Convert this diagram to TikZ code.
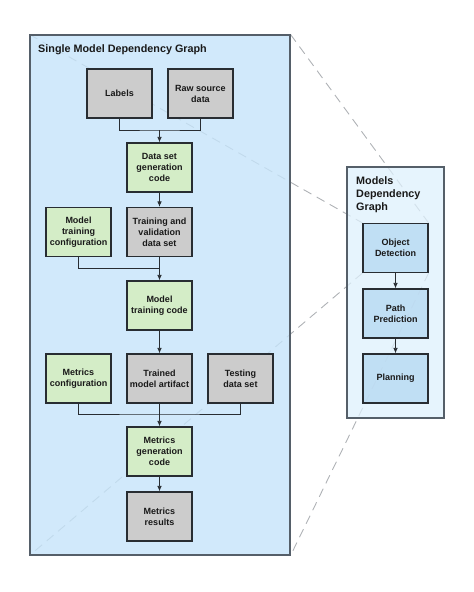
\documentclass[tikz,border=0pt]{standalone}
\usepackage{fontspec}
\setmainfont{Liberation Sans}
\usetikzlibrary{arrows.meta,positioning}
\pgfdeclarelayer{background}
\pgfsetlayers{background,main}
\definecolor{bigfill}{RGB}{198,228,250}
\definecolor{smallfill}{RGB}{222,240,252}
\definecolor{bluenode}{RGB}{184,218,242}
\definecolor{greynode}{RGB}{204,204,204}
\definecolor{greennode}{RGB}{212,237,199}
\definecolor{edgec}{RGB}{40,45,50}
\definecolor{panelc}{RGB}{85,95,105}
\definecolor{dashc}{RGB}{175,178,182}
\tikzset{
  x=1pt, y=-1pt,
  box/.style={draw=edgec, line width=1.2pt, minimum width=65pt, minimum height=49pt,
    inner sep=1pt, align=center, font=\bfseries\fontsize{9}{11}\selectfont, text=black!90},
  greybox/.style={box, fill=greynode},
  greenbox/.style={box, fill=greennode},
  bluebox/.style={box, fill=bluenode, fill opacity=0.8, text opacity=1},
  panel/.style={draw=panelc, line width=1.1pt, inner sep=0pt},
  conn/.style={draw=edgec, line width=0.7pt},
  arr/.style={conn, -{Latex[length=5.5pt,width=4.5pt]}},
  zoomline/.style={draw=dashc, line width=0.9pt, dash pattern=on 9pt off 6pt},
}
\begin{document}
\begin{tikzpicture}
\useasboundingbox (0,0) rectangle (474,592);
% panels
\node[panel, fill=bigfill, fill opacity=0.8, minimum width=260pt, minimum height=520pt] (big) at (160,295) {};
\node[panel, fill=smallfill, fill opacity=0.75, minimum width=97pt, minimum height=251pt] (small) at (395.5,292.5) {};
\node[anchor=base west, inner sep=0pt, font=\bfseries\fontsize{10.8}{13}\selectfont, text=black!90] (bigtitle) at (38,52) {Single Model Dependency Graph};
\node[anchor=north west, inner sep=0pt, align=left, font=\bfseries\fontsize{10.8}{13}\selectfont, text=black!90] (smalltitle) at (356,176) {Models\\Dependency\\Graph};
% big graph nodes
\node[greybox] (labels) at (119.5,93.5) {Labels};
\node[greybox] (raw) at (200.5,93.5) {Raw source\\data};
\node[greenbox] (dsgen) at (159.5,167.5) {Data set\\generation\\code};
\node[greybox] (train) at (159.5,232) {Training and\\validation\\data set};
\node[greenbox] (mtconf) at (78.5,232) {Model\\training\\configuration};
\node[greenbox] (mcode) at (159.5,305.5) {Model\\training code};
\node[greenbox] (metconf) at (78.5,378.5) {Metrics\\configuration};
\node[greybox] (trained) at (159.5,378.5) {Trained\\model artifact};
\node[greybox] (testing) at (240.5,378.5) {Testing\\data set};
\node[greenbox] (metgen) at (159.5,451.5) {Metrics\\generation\\code};
\node[greybox] (metres) at (159.5,516.5) {Metrics\\results};
% small graph nodes
\node[bluebox] (od) at (395.5,248) {Object\\Detection};
\node[bluebox] (pp) at (395.5,313.5) {Path\\Prediction};
\node[bluebox] (plan) at (395.5,378.5) {Planning};
% connectors
\coordinate (j1) at (159.5,130);
\coordinate (j2) at (159.5,268);
\coordinate (j3) at (159.5,414);
\draw[conn] (labels.south) |- (j1) -| (raw.south);
\draw[arr] (j1) -- (dsgen.north);
\draw[arr] (dsgen.south) -- (train.north);
\draw[conn] (mtconf.south) |- (j2);
\draw[conn] (train.south) -- (j2);
\draw[arr] (j2) -- (mcode.north);
\draw[arr] (mcode.south) -- (trained.north);
\draw[conn] (metconf.south) |- (j3) -| (testing.south);
\draw[conn] (trained.south) -- (j3);
\draw[arr] (j3) -- (metgen.north);
\draw[arr] (metgen.south) -- (metres.north);
\draw[arr] (od.south) -- (pp.north);
\draw[arr] (pp.south) -- (plan.north);
% zoom lines
\begin{pgfonlayer}{background}
\draw[zoomline] (big.north west) -- (od.north west);
\draw[zoomline] (big.north east) -- (od.north east);
\draw[zoomline] (od.south west) -- (big.south west);
\draw[zoomline] (od.south east) -- (big.south east);
\end{pgfonlayer}
\end{tikzpicture}
\end{document}
